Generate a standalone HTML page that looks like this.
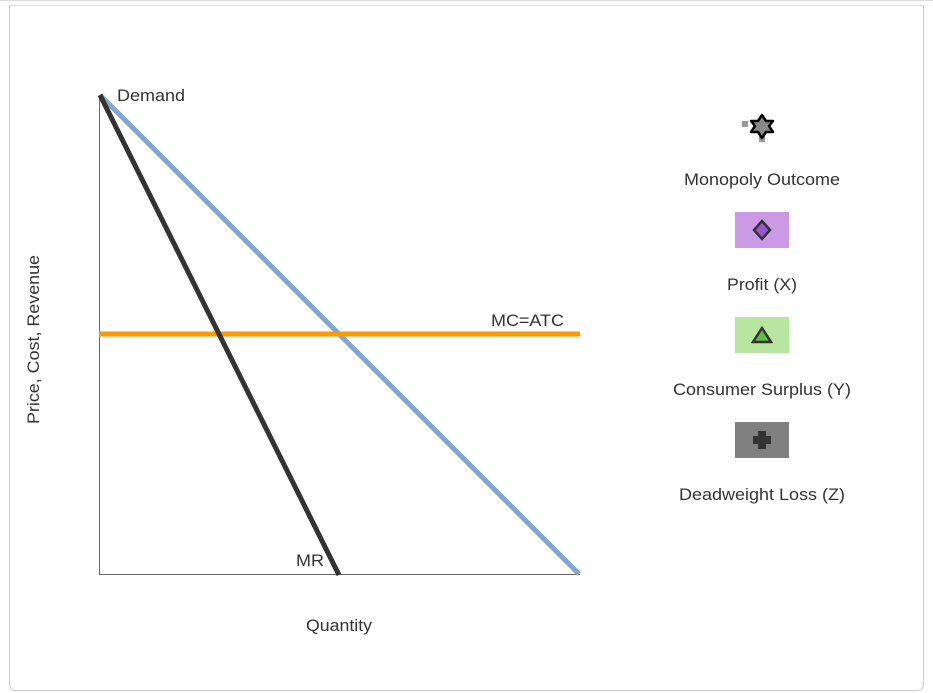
<!DOCTYPE html>
<html><head><meta charset="utf-8"><style>
html,body{margin:0;padding:0;background:#fff;}
svg{display:block;font-family:"Liberation Sans",Arial,sans-serif;}
</style></head><body>
<svg width="933" height="693" viewBox="0 0 933 693">
<line x1="0" y1="0.5" x2="933" y2="0.5" stroke="#ddd" stroke-width="1"/>
<path d="M9.5 5.5 H923.5 V684 Q923.5 690.5 917 690.5 H16 Q9.5 690.5 9.5 684 Z" fill="#fff" stroke="#ccc" stroke-width="1"/>
<line x1="10" y1="5.5" x2="923" y2="5.5" stroke="#ddd" stroke-width="1"/>
<line x1="99.5" y1="96" x2="99.5" y2="575" stroke="#666" stroke-width="1"/>
<line x1="99" y1="574.5" x2="580" y2="574.5" stroke="#666" stroke-width="1"/>
<line x1="100" y1="95" x2="579" y2="574" stroke="#80a8cf" stroke-width="5"/>
<line x1="99" y1="334" x2="580" y2="334" stroke="#f89a00" stroke-width="5"/>
<line x1="100" y1="95" x2="339" y2="575" stroke="#333" stroke-width="5"/>
<g font-size="17" fill="#333">
<text x="117" y="101" textLength="68" lengthAdjust="spacingAndGlyphs">Demand</text>
<text x="491" y="326" textLength="73" lengthAdjust="spacingAndGlyphs">MC=ATC</text>
<text x="296" y="566" textLength="28" lengthAdjust="spacingAndGlyphs">MR</text>
<text x="306" y="631" textLength="66" lengthAdjust="spacingAndGlyphs">Quantity</text>
<text transform="translate(39,424) rotate(-90)" textLength="169" lengthAdjust="spacingAndGlyphs">Price, Cost, Revenue</text>
<text x="684" y="185" textLength="156" lengthAdjust="spacingAndGlyphs">Monopoly Outcome</text>
<text x="727" y="290" textLength="70" lengthAdjust="spacingAndGlyphs">Profit (X)</text>
<text x="673" y="395" textLength="178" lengthAdjust="spacingAndGlyphs">Consumer Surplus (Y)</text>
<text x="679" y="500" textLength="166" lengthAdjust="spacingAndGlyphs">Deadweight Loss (Z)</text>
</g>
<rect x="742" y="121" width="6" height="6" fill="#999"/>
<rect x="759" y="136" width="6" height="6" fill="#999"/>
<polygon points="762,115 766,121 773,121 769,126 773,132 766,132 762,138 758,132 751,132 755,126 751,121 758,121" fill="#888" stroke="#000" stroke-width="2.5" stroke-linejoin="round"/>
<rect x="735" y="212" width="54" height="36" fill="#cc99e5"/>
<polygon points="762,221 770,230 762,239 754,230" fill="#9955cc" stroke="#333" stroke-width="2.5"/>
<rect x="735" y="317" width="54" height="36" fill="#b8e5a0"/>
<polygon points="762,328 771,342 753,342" fill="#66bb44" stroke="#333" stroke-width="2.5"/>
<rect x="735" y="422" width="54" height="36" fill="#808080"/>
<path d="M758 431 h8 v5 h5 v8 h-5 v5 h-8 v-5 h-5 v-8 h5 z" fill="#333"/>
</svg>
</body></html>
